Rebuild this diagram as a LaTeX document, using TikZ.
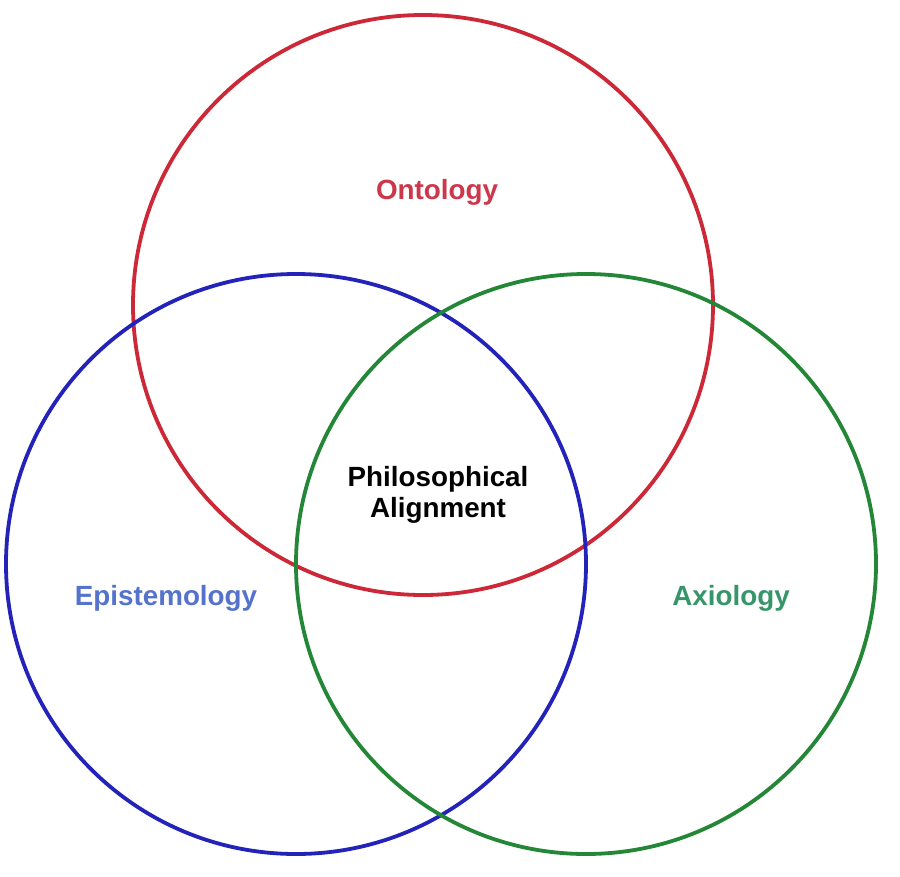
\documentclass[tikz,border=0pt]{standalone}
\usepackage{fontspec}
\setmainfont{Liberation Sans}
\definecolor{cred}{RGB}{205,40,55}
\definecolor{cblue}{RGB}{35,35,185}
\definecolor{cgreen}{RGB}{35,135,55}
\definecolor{tred}{RGB}{205,55,75}
\definecolor{tblue}{RGB}{85,115,205}
\definecolor{tgreen}{RGB}{55,150,105}
\begin{document}
\begin{tikzpicture}[x=1pt,y=-1pt,
  ring/.style={circle,draw,line width=3.8pt,minimum size=580pt,inner sep=0pt},
  lbl/.style={font=\fontsize{27.8}{31}\selectfont\bfseries,align=center,inner sep=0pt}]
\useasboundingbox[fill=white] (0,0) rectangle (900,876);
\node[ring,draw=cred] (onto) at (423,305) {};
\node[ring,draw=cblue] (epis) at (296,564) {};
\node[ring,draw=cgreen] (axio) at (586,564) {};
\node[lbl,text=tred] (tonto) at (437,192) {Ontology};
\node[lbl,text=black] (tphil) at (438,495) {Philosophical\\Alignment};
\node[lbl,text=tblue] (tepis) at (166,598) {Epistemology};
\node[lbl,text=tgreen] (taxio) at (731,598) {Axiology};
\end{tikzpicture}
\end{document}
